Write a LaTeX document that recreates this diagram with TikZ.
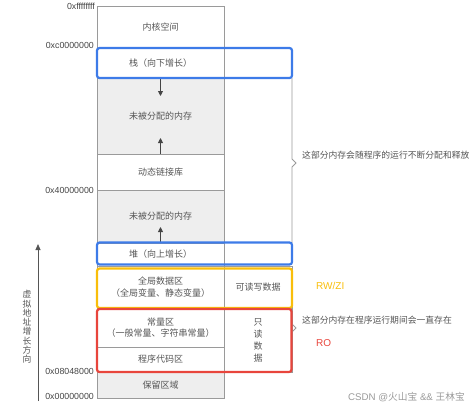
\documentclass[tikz,border=0pt]{standalone}
\usepackage{fontspec}
\setmainfont{Liberation Sans}
\newfontfamily\cjk{Noto Sans CJK SC}
\usetikzlibrary{arrows.meta}
\definecolor{txt}{HTML}{555555}
\definecolor{addr}{HTML}{444444}
\definecolor{bord}{HTML}{9A9A9A}
\definecolor{freeg}{HTML}{EEEEEE}
\definecolor{hlblue}{HTML}{3D7BE8}
\definecolor{hlyellow}{HTML}{F9BE0A}
\definecolor{hlred}{HTML}{E8453C}
\definecolor{wm}{HTML}{9A9A9A}
\begin{document}
\begin{tikzpicture}[x=1pt,y=-1pt,
  cell/.style={draw=bord, line width=0.8pt, minimum width=127pt, inner sep=0pt, outer sep=0pt,
    font=\cjk\fontsize{9}{11.5}\selectfont, text=txt, align=center, anchor=north west},
  sidecell/.style={cell, minimum width=68pt},
  freecell/.style={cell, fill=freeg},
  addrlabel/.style={anchor=east, inner sep=0pt, font=\fontsize{8.8}{10}\selectfont, text=addr},
  note/.style={anchor=west, inner sep=0pt, font=\cjk\fontsize{8.8}{11}\selectfont, text=txt},
  growarrow/.style={draw=txt!80!black, line width=0.9pt, -{Triangle[length=5pt,width=5pt]}},
  hlbox/.style={line width=2.2pt, rounded corners=2.5pt},
  bracket/.style={draw=bord, line width=0.8pt},
]
\useasboundingbox (0,0) rectangle (474,407);

% main column
\node[cell, minimum height=42pt] (kernel) at (97,6) {内核空间};
\node[cell, minimum height=30pt] (stack) at (97,48) {栈（向下增长）};
\node[freecell, minimum height=76pt] (free1) at (97,78) {未被分配的内存};
\node[cell, minimum height=36pt] (dll) at (97,154) {动态链接库};
\node[freecell, minimum height=53pt] (free2) at (97,190) {未被分配的内存};
\node[cell, minimum height=23pt] (heap) at (97,243) {堆（向上增长）};
\node[cell, minimum height=42pt] (global) at (97,266) {全局数据区\\（全局变量、静态变量）};
\node[cell, minimum height=39pt] (const) at (97,308) {常量区\\（一般常量、字符串常量）};
\node[cell, minimum height=25pt] (code) at (97,347) {程序代码区};
\node[freecell, minimum height=26pt] (reserved) at (97,372) {保留区域};

% side column
\node[sidecell, minimum height=42pt] (rw) at (224,266) {可读写数据};
\node[sidecell, minimum height=64pt, font=\cjk\fontsize{9}{12}\selectfont] (ro) at (224,308) {只\\读\\数\\据};

% growth arrows
\coordinate (downtip) at (160.5,96);
\coordinate (uptip1) at (160.5,138);
\coordinate (uptip2) at (160.5,227);
\draw[growarrow] (stack.south) -- (downtip);
\draw[growarrow] (dll.north) -- (uptip1);
\draw[growarrow] (heap.north) -- (uptip2);

% address labels
\node[addrlabel] (a1) at (95,6) {0xffffffff};
\node[addrlabel] (a2) at (94,45) {0xc0000000};
\node[addrlabel] (a3) at (94,190) {0x40000000};
\node[addrlabel] (a4) at (94,371) {0x08048000};
\node[addrlabel] (a5) at (94,396) {0x00000000};

% axis
\coordinate (axbot) at (38,401);
\coordinate (axtop) at (38,244);
\draw[draw=txt, line width=0.8pt, -{Triangle[length=6pt,width=5pt]}] (axbot) -- (axtop);
\node[inner sep=0pt, font=\cjk\fontsize{8.8}{9.3}\selectfont, text=txt, align=center] (axlabel) at (27,327)
  {虚\\拟\\地\\址\\增\\长\\方\\向};

% brackets
\coordinate (b1top) at (292,78);
\coordinate (b1mid) at (292,155);
\coordinate (b1bot) at (292,243);
\draw[bracket] (b1top) -- ([yshift=-4]b1mid) -- ++(4,4) -- ++(-4,4) -- (b1bot);
\coordinate (b2top) at (292,268);
\coordinate (b2mid) at (292,320);
\coordinate (b2bot) at (292,372);
\draw[bracket] (b2top) -- ([yshift=-4]b2mid) -- ++(4,4) -- ++(-4,4) -- (b2bot);

% highlight boxes
\draw[hlbox, draw=hlblue] (97,48) rectangle (292,78);
\draw[hlbox, draw=hlblue] (97,242.5) rectangle (292,264.5);
\draw[hlbox, draw=hlyellow] (97,268.5) rectangle (292,308);
\draw[hlbox, draw=hlred] (97,309) rectangle (291.5,372);

% notes
\node[note] (n1) at (302,155) {这部分内存会随程序的运行不断分配和释放};
\node[note] (n2) at (302,320) {这部分内存在程序运行期间会一直存在};
\node[anchor=west, inner sep=0pt, font=\fontsize{10}{12}\selectfont, text=hlyellow] (rwzi) at (316,286) {RW/ZI};
\node[anchor=west, inner sep=0pt, font=\fontsize{10}{12}\selectfont, text=hlred] (rolab) at (316,343) {RO};

% watermark
\node[anchor=west, inner sep=0pt, font=\fontsize{9.7}{12}\selectfont, text=wm] (wmark) at (348,397) {CSDN @{\cjk 火山宝} \&\& {\cjk 王林宝}};
\end{tikzpicture}
\end{document}
